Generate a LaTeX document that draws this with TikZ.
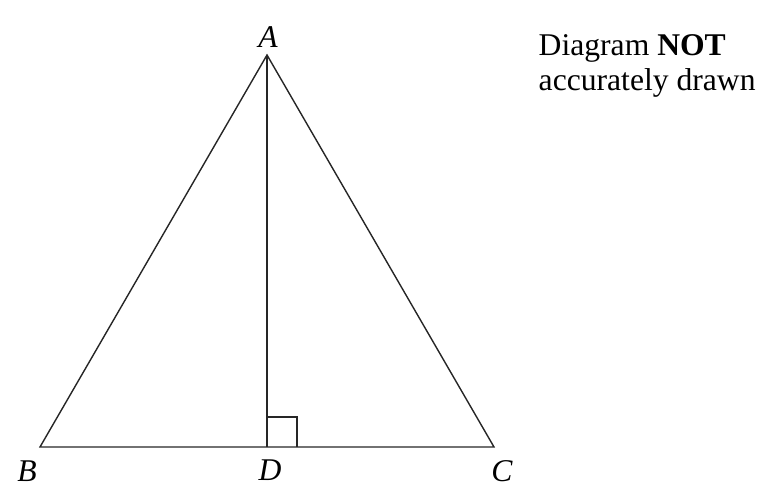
\documentclass[tikz,border=0pt]{standalone}
\usepackage{fontspec}
\setmainfont{Liberation Serif}
\begin{document}
\begin{tikzpicture}[x=0.02cm,y=-0.02cm,line width=0.8pt,
	lbl/.style={font=\fontsize{18}{21}\selectfont\itshape,anchor=base,inner sep=0pt},
	note/.style={font=\fontsize{18}{21}\selectfont,anchor=base west,inner sep=0pt}]
	\useasboundingbox (0,0) rectangle (776,500);
	\coordinate (A) at (267,55);
	\coordinate (B) at (40,447);
	\coordinate (C) at (494,447);
	\coordinate (D) at (267,447);
	\draw[black!85] (A) -- (B) -- (C) -- cycle;
	\draw[black!85] (A) -- (D);
	\draw[black!85] (D) ++(0,-30) -- ++(30,0) -- ++(0,30);
	\node[lbl] (la) at (268,48) {A};
	\node[lbl] (lb) at (27,481) {B};
	\node[lbl] (ld) at (270,480) {D};
	\node[lbl] (lc) at (502,481) {C};
	\node[note] (n1) at (538,56) {Diagram \textbf{NOT}};
	\node[note] (n2) at (538,91) {accurately drawn};
\end{tikzpicture}
\end{document}
